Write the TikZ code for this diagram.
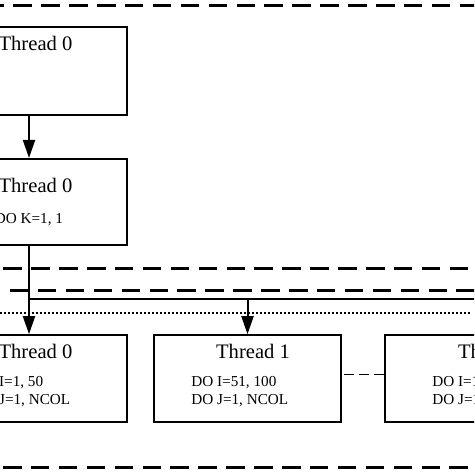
\documentclass[tikz,border=0pt]{standalone}
\usepackage{fontspec}
\setmainfont{Liberation Serif}
\usetikzlibrary{arrows.meta}
\begin{document}
\begin{tikzpicture}[x=0.5pt,y=-0.5pt,>={Triangle[length=9pt,width=6pt]},
	box/.style={draw,line width=1pt,minimum width=98pt,minimum height=43.5pt,inner sep=0pt},
	title/.style={anchor=base,inner sep=0pt,font=\fontsize{10.3}{12}\selectfont},
	code/.style={anchor=base west,inner sep=0pt,font=\fontsize{7.6}{9}\selectfont},
	region/.style={line width=1.5pt,dash pattern=on 9.25pt off 4.7pt},
	flow/.style={line width=1pt}]
	\useasboundingbox (0,0) rectangle (474,474);
	\clip (0,0) rectangle (474,474);
	% region borders
	\draw[region] (-14.6,5.3) -- (500,5.3);
	\draw[region] (3.3,269) -- (500,269);
	\draw[region] (10,290.5) -- (500,290.5);
	\draw[region] (3,467) -- (500,467);
	\draw[line width=0.9pt,dash pattern=on 0.9pt off 1.1pt] (0,313) -- (471,313);
	% serial part
	\node[box,minimum height=44pt] (t0s) at (29,71) {};
	\node[title] (t0s-t) at (35.5,51) {Thread 0};
	\node[box,minimum height=43pt] (t0k) at (29,202) {};
	\node[title] (t0k-t) at (35.5,193) {Thread 0};
	\node[code] (t0k-k) at (-5.5,224) {DO K=1, 1};
	% parallel part
	\node[box] (t0p) at (29,378.7) {};
	\node[title] (t0p-t) at (35.5,358.5) {Thread 0};
	\node[code] (t0p-i) at (-27,386) {DO I=1, 50};
	\node[code] (t0p-j) at (-27,404.7) {DO J=1, NCOL};
	\node[box,minimum width=93.5pt] (t1p) at (247.5,378.7) {};
	\node[title] (t1p-t) at (253,358.5) {Thread 1};
	\node[code] (t1p-i) at (191,386) {DO I=51, 100};
	\node[code] (t1p-j) at (191,404.7) {DO J=1, NCOL};
	\node[box,minimum width=97pt] (t2p) at (482,378.7) {};
	\node[title] (t2p-t) at (495,358.5) {Thread 2};
	\node[code] (t2p-i) at (432,386) {DO I=101, 150};
	\node[code] (t2p-j) at (432,404.7) {DO J=1, NCOL};
	% connectors
	\coordinate (fork) at (29,299.5);
	\draw[flow,->] (t0s.south) -- (t0k.north);
	\draw[flow,->] (t0k.south) -- (t0p.north);
	\draw[flow,->] (fork) -| (t1p.north);
	\draw[flow,->] (fork) -| (t2p.north);
	\draw[line width=0.7pt,dash pattern=on 5pt off 2.5pt,dash phase=6.5pt]
		([yshift=2.2pt]t1p.east) -- ([yshift=2.2pt]t2p.west);
\end{tikzpicture}
\end{document}
